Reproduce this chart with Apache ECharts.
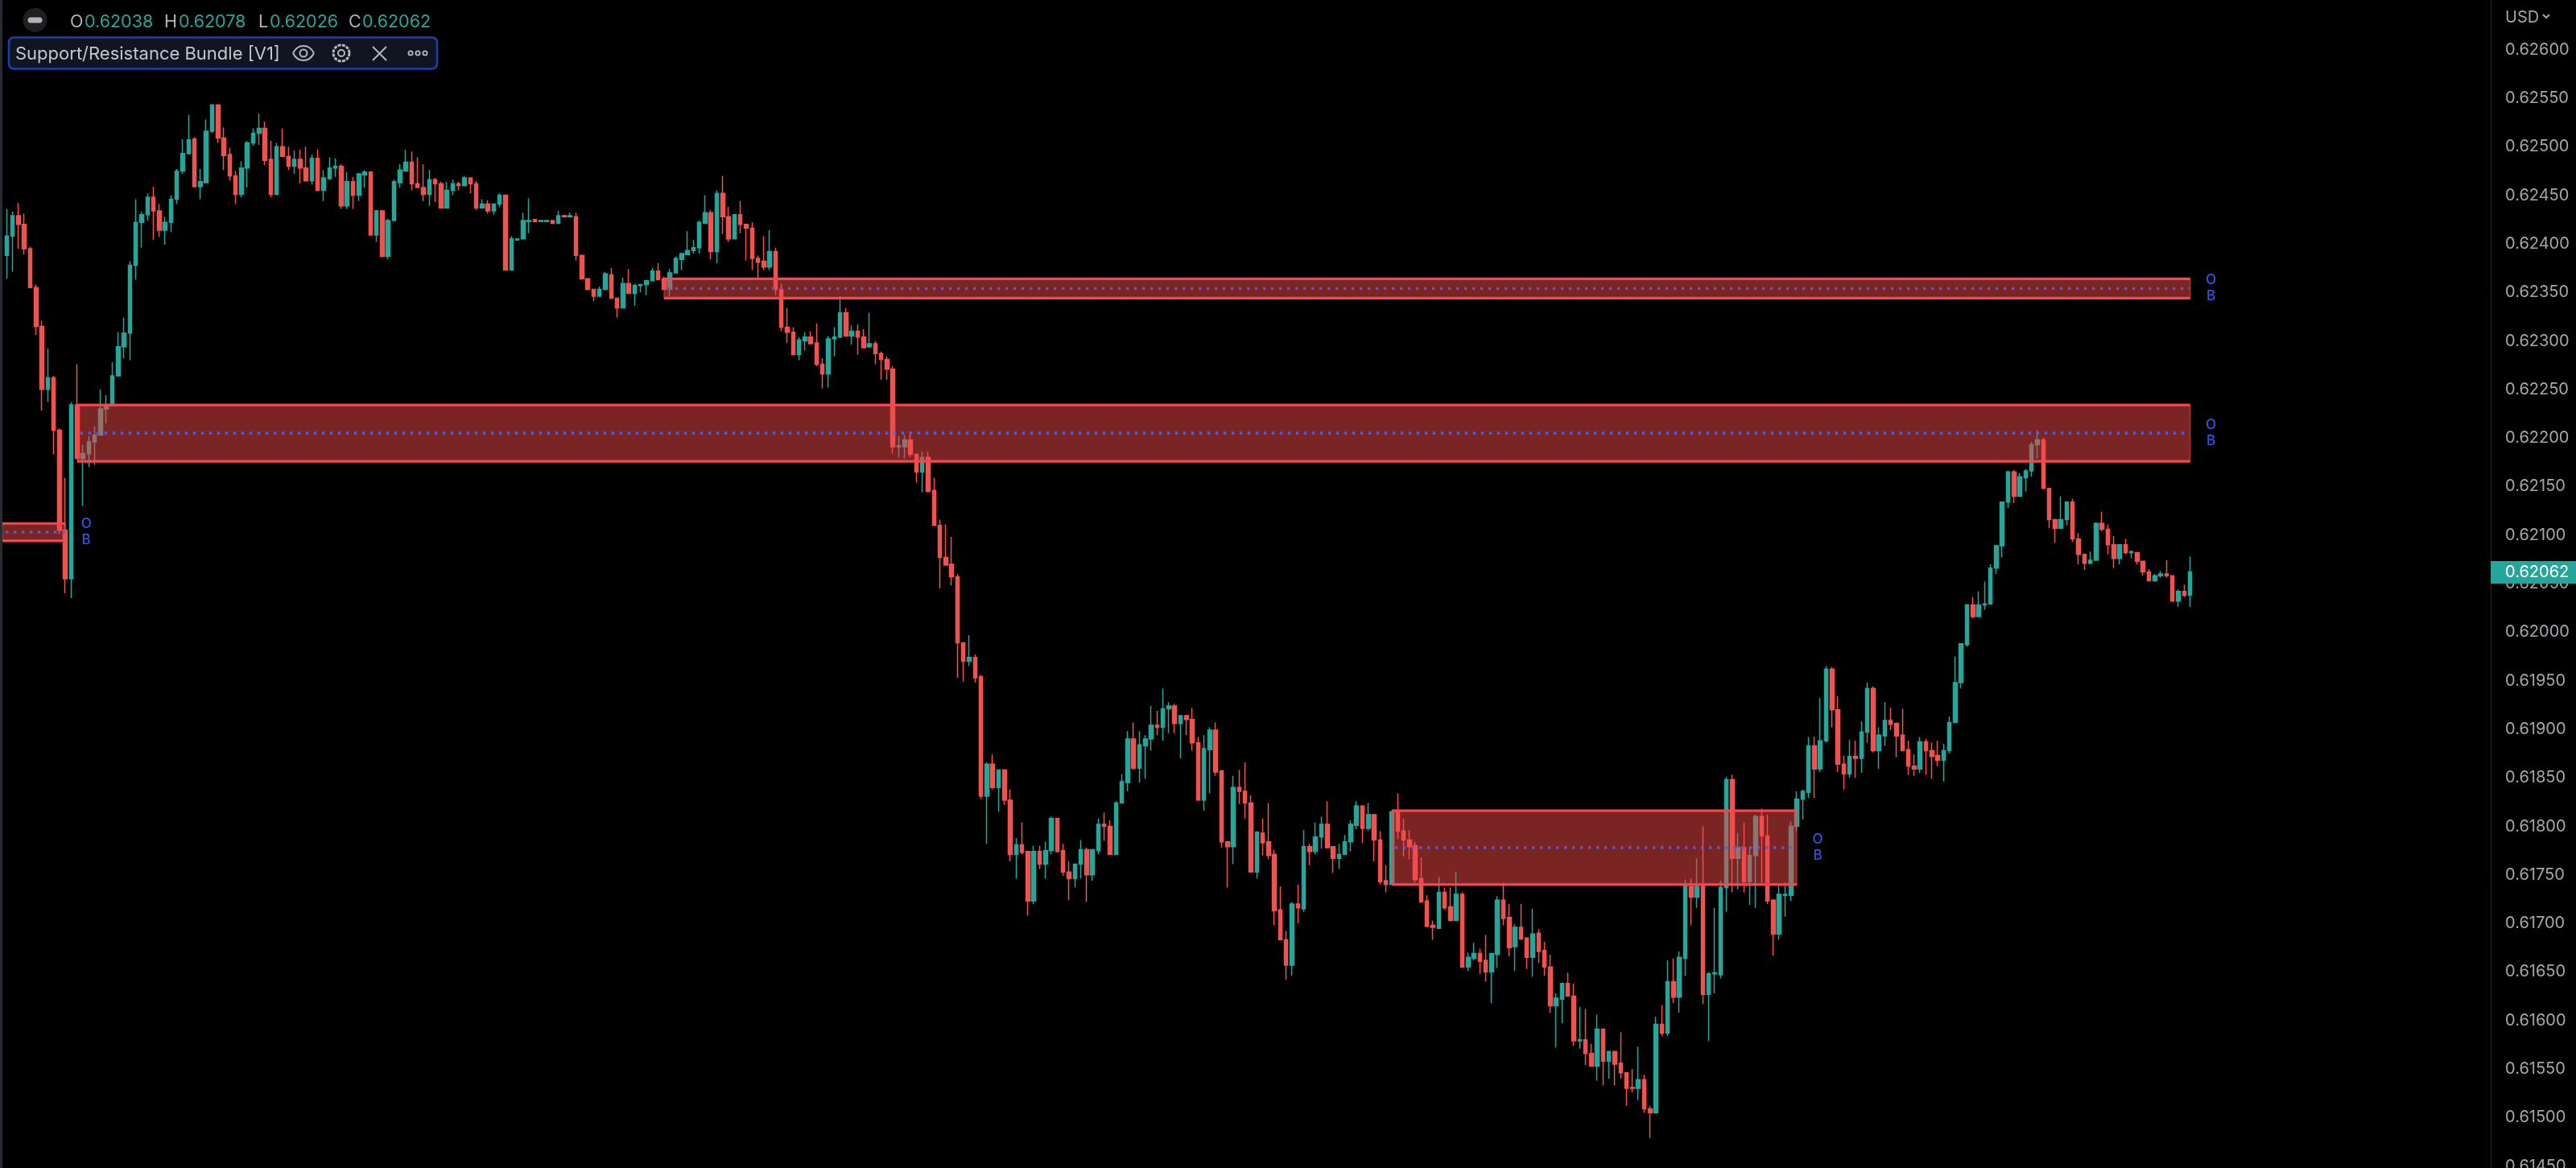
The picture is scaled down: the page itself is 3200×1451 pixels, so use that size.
<!DOCTYPE html>
<html><head><meta charset="utf-8">
<style>html,body{margin:0;padding:0;background:#000;width:3200px;height:1451px;overflow:hidden}#c{width:3200px;height:1451px}</style>
<script src="https://cdn.jsdelivr.net/npm/echarts@6/dist/echarts.min.js"></script>
</head><body><div id="c"></div>
<script>
// All prices in 1e-5 units (62062 = 0.62062)
const opens=[62388,62408,62429,62420,62395,62355,62315,62250,62262,62208,
62105,62055,62234,62179,62184,62196,62203,62230,62233,62264,
62294,62308,62378,62422,62430,62448,62434,62414,62422,62446,
62475,62493,62508,62459,62463,62516,62543,62509,62492,62470,
62451,62478,62504,62514,62519,62487,62451,62500,62490,62480,
62487,62478,62465,62488,62455,62467,62478,62480,62439,62464,
62450,62471,62474,62409,62434,62387,62424,62463,62475,62484,
62462,62458,62451,62466,62462,62437,62455,62462,62460,62468,
62462,62437,62441,62434,62441,62450,62373,62404,62405,62423,
62425,62423,62423,62424,62421,62429,62428,62428,62388,62364,
62353,62346,62353,62368,62344,62334,62359,62349,62357,62358,
62362,62372,62364,62353,62370,62384,62389,62393,62396,62421,
62432,62392,62452,62428,62405,62430,62420,62416,62385,62382,
62376,62392,62353,62314,62309,62286,62300,62304,62298,62276,
62266,62302,62304,62329,62305,62310,62304,62294,62297,62287,
62281,62271,62191,62191,62198,62183,62165,62180,62146,62110,
62077,62070,62057,61989,61970,61974,61954,61831,61864,61840,
61858,61827,61771,61781,61774,61723,61774,61761,61775,61808,
61775,61753,61746,61761,61776,61750,61775,61802,61800,61771,
61824,61845,61890,61860,61883,61890,61904,61902,61921,61924,
61906,61914,61910,61886,61827,61879,61899,61857,61784,61779,
61840,61836,61824,61753,61793,61784,61771,61714,61683,61657,
61720,61715,61779,61774,61789,61802,61779,61767,61771,61784,
61801,61821,61798,61812,61786,61744,61740,61815,61795,61786,
61780,61746,61723,61698,61695,61732,61717,61703,61730,61655,
61664,61669,61662,61650,61668,61724,61706,61676,61696,61685,
61665,61690,61672,61655,61615,61622,61638,61625,61579,61580,
61566,61553,61591,61558,61568,61556,61546,61531,61530,61539,
61509,61505,61596,61587,61640,61624,61664,61738,61727,61739,
61627,61648,61647,61737,61848,61767,61778,61743,61770,61810,
61790,61724,61689,61729,61729,61800,61828,61835,61883,61859,
61888,61962,61920,61864,61854,61872,61870,61897,61942,61878,
61893,61909,61906,61894,61879,61862,61859,61887,61878,61873,
61868,61878,61907,61948,61987,62028,62016,62028,62029,62066,
62089,62134,62165,62140,62159,62166,62193,62198,62148,62116,
62107,62116,62134,62096,62080,62071,62074,62112,62106,62090,
62076,62090,62082,62082,62073,62062,62053,62058,62060,62058,
62032,62042,62038];
const closes=[62408,62429,62420,62395,62355,62315,62250,62262,62208,62105,
62055,62234,62179,62184,62196,62203,62230,62233,62264,62294,
62308,62378,62422,62430,62448,62434,62414,62422,62446,62475,
62493,62507,62459,62464,62516,62543,62509,62491,62470,62451,
62478,62504,62514,62519,62486,62451,62500,62490,62480,62487,
62478,62465,62488,62455,62468,62478,62480,62439,62464,62450,
62472,62474,62409,62434,62387,62424,62464,62476,62484,62462,
62458,62451,62466,62462,62437,62455,62462,62460,62468,62462,
62437,62441,62434,62441,62450,62373,62405,62405,62424,62424,
62423,62424,62424,62421,62429,62428,62429,62388,62364,62353,
62346,62353,62369,62344,62334,62359,62349,62357,62358,62362,
62372,62363,62353,62370,62385,62390,62393,62396,62422,62432,
62392,62452,62428,62405,62430,62420,62416,62385,62381,62376,
62392,62353,62314,62309,62286,62301,62304,62297,62276,62266,
62302,62304,62329,62305,62310,62304,62293,62297,62287,62281,
62271,62191,62192,62198,62183,62165,62180,62145,62110,62077,
62069,62057,61989,61970,61974,61953,61831,61864,61840,61858,
61827,61771,61781,61773,61723,61774,61761,61775,61808,61774,
61753,61746,61761,61776,61750,61776,61802,61800,61771,61824,
61846,61890,61860,61884,61890,61904,61902,61921,61924,61906,
61914,61910,61886,61827,61880,61899,61856,61784,61779,61840,
61836,61824,61753,61794,61783,61770,61713,61683,61657,61720,
61716,61779,61774,61789,61802,61778,61767,61771,61784,61802,
61821,61798,61812,61786,61743,61740,61815,61795,61786,61779,
61745,61722,61697,61696,61732,61716,61703,61730,61655,61665,
61669,61661,61650,61669,61724,61705,61675,61696,61684,61665,
61689,61671,61655,61615,61623,61638,61625,61579,61580,61566,
61553,61591,61558,61568,61555,61546,61530,61530,61539,61509,
61505,61596,61587,61640,61624,61665,61739,61727,61738,61627,
61648,61649,61737,61848,61767,61778,61743,61770,61810,61790,
61723,61689,61730,61730,61800,61828,61836,61883,61859,61888,
61962,61920,61864,61854,61872,61870,61897,61942,61878,61894,
61909,61905,61893,61878,61862,61859,61887,61878,61872,61868,
61878,61907,61948,61988,62028,62016,62028,62029,62066,62089,
62134,62165,62140,62160,62166,62193,62198,62148,62116,62107,
62116,62134,62096,62080,62071,62074,62112,62106,62090,62076,
62090,62082,62083,62073,62062,62053,62058,62060,62058,62032,
62042,62038,62062];
const highs=[62436,62433,62442,62431,62397,62358,62321,62292,62264,62210,
62159,62237,62276,62193,62202,62212,62250,62244,62278,62309,
62324,62382,62446,62433,62452,62459,62441,62428,62450,62477,
62508,62533,62510,62477,62528,62544,62544,62520,62499,62475,
62485,62506,62519,62534,62526,62506,62504,62519,62500,62496,
62497,62500,62492,62497,62476,62489,62488,62482,62474,62469,
62473,62476,62475,62435,62435,62426,62466,62482,62497,62495,
62489,62482,62476,62468,62464,62464,62466,62464,62470,62468,
62465,62446,62445,62441,62452,62450,62408,62405,62432,62447,
62425,62424,62424,62424,62434,62430,62432,62432,62388,62364,
62353,62356,62371,62375,62344,62365,62374,62359,62358,62363,
62375,62380,62366,62374,62387,62390,62413,62404,62424,62450,
62435,62455,62470,62438,62430,62444,62420,62422,62388,62408,
62414,62396,62359,62334,62314,62304,62309,62310,62318,62282,
62305,62314,62346,62334,62316,62317,62312,62329,62300,62289,
62284,62274,62202,62203,62207,62184,62186,62186,62159,62116,
62111,62098,62060,61989,61997,61977,61956,61866,61874,61858,
61858,61838,61788,61804,61774,61780,61780,61784,61810,61808,
61782,61764,61761,61786,61778,61776,61808,61814,61806,61826,
61854,61898,61907,61898,61894,61924,61919,61942,61928,61926,
61914,61914,61922,61892,61894,61902,61907,61858,61784,61852,
61858,61866,61832,61795,61808,61824,61776,61738,61692,61722,
61740,61796,61782,61804,61810,61826,61779,61782,61791,61806,
61826,61821,61824,61812,61795,61760,61816,61834,61808,61796,
61784,61768,61729,61703,61748,61737,61737,61753,61732,61670,
61680,61674,61688,61669,61728,61742,61720,61699,61720,61685,
61715,61694,61681,61668,61628,61638,61649,61638,61614,61612,
61576,61606,61591,61568,61568,61588,61546,61550,61573,61544,
61512,61604,61616,61662,61664,61671,61745,61746,61767,61800,
61650,61716,61744,61851,61853,61793,61804,61778,61812,61818,
61812,61725,61739,61742,61805,61836,61838,61892,61892,61932,
61965,61964,61934,61873,61889,61888,61908,61948,61944,61902,
61928,61922,61907,61921,61888,61874,61892,61890,61886,61888,
61885,61913,61975,61988,62029,62036,62042,62052,62070,62090,
62134,62166,62167,62164,62168,62196,62208,62200,62148,62116,
62140,62135,62137,62102,62081,62083,62113,62124,62111,62099,
62090,62096,62084,62082,62073,62065,62060,62063,62074,62058,
62044,62049,62078];
const lows=[62364,62371,62395,62389,62355,62306,62228,62237,62183,62101,
62040,62035,62179,62130,62170,62172,62203,62215,62233,62264,
62282,62280,62363,62396,62424,62404,62407,62399,62412,62441,
62472,62492,62458,62446,62463,62514,62504,62476,62465,62441,
62448,62458,62501,62502,62481,62448,62451,62490,62476,62472,
62462,62464,62461,62454,62444,62466,62469,62436,62436,62436,
62444,62458,62409,62402,62386,62384,62424,62458,62475,62455,
62458,62444,62439,62443,62437,62437,62450,62455,62459,62452,
62435,62437,62431,62430,62438,62373,62373,62404,62405,62411,
62423,62423,62423,62421,62421,62427,62427,62383,62364,62352,
62341,62346,62352,62344,62324,62334,62349,62336,62350,62347,
62362,62363,62353,62346,62370,62373,62389,62390,62390,62421,
62384,62380,62410,62402,62405,62411,62383,62373,62365,62373,
62373,62347,62310,62298,62286,62280,62290,62297,62274,62251,
62252,62284,62303,62305,62296,62286,62293,62293,62276,62260,
62260,62184,62180,62179,62180,62154,62144,62144,62110,62045,
62069,62048,61953,61949,61965,61948,61828,61782,61838,61815,
61822,61764,61746,61771,61708,61720,61756,61746,61771,61773,
61749,61724,61737,61746,61722,61744,61771,61785,61771,61771,
61824,61836,61858,61845,61849,61878,61894,61888,61896,61896,
61870,61894,61878,61827,61816,61834,61852,61778,61737,61761,
61823,61808,61753,61746,61770,61766,61698,61683,61642,61646,
61700,61712,61760,61771,61777,61777,61752,61756,61771,61774,
61797,61783,61795,61764,61740,61732,61740,61787,61769,61766,
61742,61722,61696,61683,61694,61714,61702,61703,61654,61651,
61662,61648,61640,61618,61654,61698,61666,61651,61683,61653,
61645,61659,61646,61608,61572,61597,61625,61574,61571,61554,
61553,61538,61533,61540,61533,61540,61512,61526,61518,61505,
61479,61504,61584,61584,61618,61608,61646,61698,61716,61617,
61579,61628,61643,61712,61732,61735,61732,61719,61716,61742,
61720,61667,61683,61707,61723,61795,61807,61829,61829,61856,
61886,61902,61856,61838,61850,61850,61855,61886,61876,61859,
61883,61899,61871,61878,61853,61852,61855,61853,61849,61862,
61846,61875,61907,61942,61985,62014,62016,62023,62029,62060,
62077,62128,62133,62140,62145,62160,62179,62148,62107,62092,
62107,62110,62093,62070,62064,62070,62074,62104,62080,62066,
62070,62080,62076,62070,62058,62053,62052,62056,62056,62032,
62026,62036,62026];
// Order-block zones: bar index start/end and price levels
const zoneStarts=[-1,12,112,236];
const zoneEnds=[10,372,372,305];
const zoneTops=[62112,62234,62364,61816];
const zoneBottoms=[62094,62176,62344,61740];
const zoneMids=[62103,62205,62354,61778];
const zoneLabel='O\nB';
const slotCount=424;
const lastPrice=62062;
const axisMin=0.6140,axisMax=0.6270,axisStep=0.0005,topLabel=0.6261;
const legendName='Support/Resistance Bundle [V1]';
const ohlcLetters=['O','H','L','C'];
const ohlcValues=['0.62038','0.62078','0.62026','0.62062'];
const currency='USD';

const SCALE=1e-5;
const p=v=>v*SCALE;
const TEAL='#26a69a',RED='#ef5350',FONT='Inter, "Noto Sans", sans-serif';
const categories=Array.from({length:slotCount},(_,i)=>String(i));
const candleData=opens.map((o,i)=>[p(o),p(closes[i]),p(lows[i]),p(highs[i])]);
const zoneData=zoneStarts.map((s,i)=>[s,p(zoneMids[i]),zoneEnds[i],p(zoneTops[i]),p(zoneBottoms[i])]);

const renderZone=(params,api)=>{
  const s=api.value(0),m=api.value(1),e=api.value(2),t=api.value(3),b=api.value(4);
  const a=api.coord([s,t]),c=api.coord([e,b]),mm=api.coord([e,m]);
  const x0=a[0],x1=c[0],y0=a[1],y1=c[1],ym=mm[1];
  const left=Math.max(x0,3);
  return {type:'group',children:[
    {type:'rect',shape:{x:left,y:y0,width:x1-left,height:y1-y0},style:{fill:'rgba(239,70,70,0.51)',stroke:'rgba(245,72,78,0.75)',lineWidth:1}},
    {type:'line',shape:{x1:left,y1:y0,x2:x1,y2:y0},style:{stroke:'#f5484e',lineWidth:3.2}},
    {type:'line',shape:{x1:left,y1:y1,x2:x1,y2:y1},style:{stroke:'#f5484e',lineWidth:3.2}},
    {type:'line',shape:{x1:left+4,y1:ym,x2:x1,y2:ym},style:{stroke:'#4a5ef0',lineWidth:3.4,lineDash:[3.4,6.6]}},
    {type:'text',x:x1+26,y:ym,style:{text:zoneLabel,fill:'#2f55e6',font:'500 17px '+FONT,lineHeight:20,align:'center',verticalAlign:'middle'}}
  ]};
};
const renderTag=(params,api)=>{
  const y=api.coord([api.value(0),api.value(1)])[1]+0.5;
  const right=params.coordSys.x+params.coordSys.width-2;
  return {type:'group',children:[
    {type:'rect',shape:{x:right,y:y-14,width:3200-right,height:28},style:{fill:TEAL}},
    {type:'text',x:right+18,y:y,style:{text:p(lastPrice).toFixed(5),fill:'#fff',font:'20px '+FONT,align:'left',verticalAlign:'middle'}}
  ]};
};

const txt=(x,y,text,fill,size)=>({type:'text',x,y,z:20,style:{text,fill,font:size+'px '+FONT,textVerticalAlign:'middle',textAlign:'left'}});
const letterX=[87,204,321,433],valueX=[105,222,335,450];
const ICON='#b4b7bc';
const graphics=[
  {type:'rect',z:20,shape:{x:0,y:0,width:3,height:1451},style:{fill:'#2a2b30'}},
  {type:'circle',z:20,shape:{cx:43.5,cy:25,r:15},style:{fill:'#1f1f22'}},
  {type:'rect',z:21,shape:{x:34.5,y:21.5,width:18,height:7,r:3.5},style:{fill:'#b0b2b6'}},
  {type:'rect',z:20,shape:{x:11,y:46.5,width:532,height:39,r:6},style:{fill:'#111521',stroke:'#1d3fb0',lineWidth:2.5}},
  txt(19,67,legendName,'#c3c6cb',22),
  {type:'bezierCurve',z:21,shape:{x1:364,y1:66,x2:390,y2:66,cpx1:370,cpy1:54,cpx2:384,cpy2:54},style:{fill:'none',stroke:ICON,lineWidth:2}},
  {type:'bezierCurve',z:21,shape:{x1:364,y1:66,x2:390,y2:66,cpx1:370,cpy1:78,cpx2:384,cpy2:78},style:{fill:'none',stroke:ICON,lineWidth:2}},
  {type:'circle',z:21,shape:{cx:377,cy:66,r:4.5},style:{fill:'none',stroke:ICON,lineWidth:2}},
  {type:'circle',z:21,shape:{cx:424,cy:66,r:10},style:{fill:'none',stroke:ICON,lineWidth:3,lineDash:[4,1.3]}},
  {type:'circle',z:21,shape:{cx:424,cy:66,r:4},style:{fill:'none',stroke:ICON,lineWidth:2}},
  {type:'line',z:21,shape:{x1:463,y1:58,x2:480,y2:75},style:{stroke:ICON,lineWidth:2}},
  {type:'line',z:21,shape:{x1:480,y1:58,x2:463,y2:75},style:{stroke:ICON,lineWidth:2}},
  {type:'circle',z:21,shape:{cx:510,cy:66,r:2.6},style:{fill:'none',stroke:ICON,lineWidth:1.8}},
  {type:'circle',z:21,shape:{cx:519,cy:66,r:2.6},style:{fill:'none',stroke:ICON,lineWidth:1.8}},
  {type:'circle',z:21,shape:{cx:528,cy:66,r:2.6},style:{fill:'none',stroke:ICON,lineWidth:1.8}},
  txt(3112,22,currency,'#a3a6ab',20),
  {type:'polyline',z:20,shape:{points:[[3159,18],[3163,22],[3167,18]]},style:{fill:'none',stroke:'#a3a6ab',lineWidth:2}}
];
ohlcLetters.forEach((l,i)=>{
  graphics.push(txt(letterX[i],28,l,'#b2b5be',21.5));
  graphics.push(txt(valueX[i],28,ohlcValues[i],TEAL,21.5));
});

const chart=echarts.init(document.getElementById('c'),null,{renderer:'canvas',width:3200,height:1451});
chart.setOption({
  backgroundColor:'#000',
  animation:false,
  grid:{left:4.65,top:-58.9,width:3091.4,height:1567.8,containLabel:false,outerBoundsMode:'none'},
  xAxis:{type:'category',data:categories,show:false,boundaryGap:true},
  yAxis:{type:'value',position:'right',offset:-2,min:axisMin,max:axisMax,interval:axisStep,scale:true,
    axisLine:{show:true,lineStyle:{color:'#2a2a2c',width:1}},axisTick:{show:false},splitLine:{show:false},
    axisLabel:{show:true,margin:18,color:'#a3a6ab',fontFamily:FONT,fontSize:20,formatter:v=>v>topLabel?'':v.toFixed(5)}},
  series:[
    {type:'candlestick',name:'Price',data:candleData,barWidth:5,z:2,
      itemStyle:{color:TEAL,color0:RED,borderColor:TEAL,borderColor0:RED,borderColorDoji:TEAL,borderWidth:1.5}},
    {type:'custom',name:'Zones',data:zoneData,renderItem:renderZone,z:5,clip:false,silent:true,encode:{x:0,y:1}},
    {type:'custom',name:'Last',data:[[372,p(lastPrice)]],renderItem:renderTag,z:10,clip:false,silent:true,encode:{x:0,y:1}}
  ],
  graphic:graphics
});
</script></body></html>
